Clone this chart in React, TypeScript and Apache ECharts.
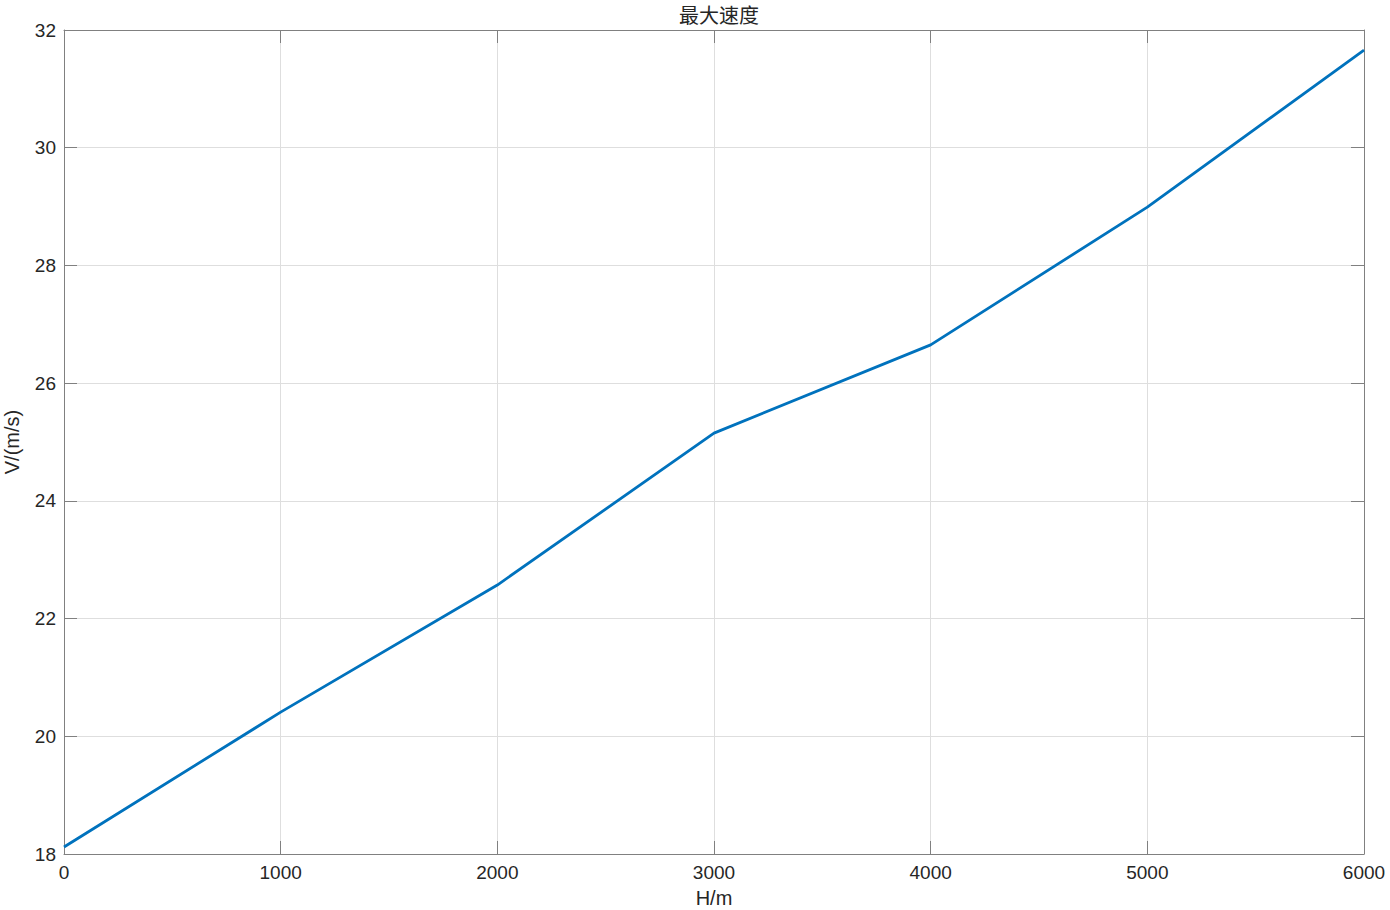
import React, { useEffect, useRef } from "react";
import * as echarts from "echarts";

const heights = [0, 1000, 2000, 3000, 4000, 5000, 6000];
const speeds = [18.12, 20.41, 22.57, 25.15, 26.65, 28.99, 31.66];
const titleText = "最大速度";
const xName = "H/m";
const yName = "V/(m/s)";

const axisColor = "#808080";
const textColor = "#262626";
const font = "'Liberation Sans', Arial, 'Noto Sans CJK SC', sans-serif";

export default function App() {
  const ref = useRef<HTMLDivElement>(null);
  useEffect(() => {
    const chart = echarts.init(ref.current!, null, { renderer: "svg" });
    const baseX = {
      type: "value",
      min: 0,
      max: 6000,
      interval: 1000,
      axisLine: { show: true, onZero: false, lineStyle: { color: axisColor, width: 1 } },
      axisTick: { show: true, inside: true, length: 13, lineStyle: { color: axisColor } },
    };
    const baseY = {
      type: "value",
      min: 18,
      max: 32,
      interval: 2,
      axisLine: { show: true, onZero: false, lineStyle: { color: axisColor, width: 1 } },
      axisTick: { show: true, inside: true, length: 13, lineStyle: { color: axisColor } },
    };
    chart.setOption({
      animation: false,
      backgroundColor: "#ffffff",
      title: {
        text: titleText,
        left: 714,
        top: -1,
        textAlign: "center",
        textStyle: { fontSize: 20, fontWeight: "normal", color: textColor, fontFamily: "'Noto Sans CJK SC', sans-serif" },
      },
      grid: { left: 64, right: 26, top: 30, bottom: 56, containLabel: false, outerBoundsMode: "none" },
      xAxis: [
        {
          ...baseX,
          position: "bottom",
          name: xName,
          nameLocation: "middle",
          nameGap: 34,
          nameTextStyle: { fontSize: 20, color: textColor, fontFamily: font },
          axisLabel: { fontSize: 19, color: textColor, fontFamily: font, margin: 9, formatter: (v: number) => String(v) },
          splitLine: { show: true, lineStyle: { color: "#dedede", width: 1 } },
        },
        {
          ...baseX,
          position: "top",
          axisLabel: { show: false },
          splitLine: { show: false },
        },
      ],
      yAxis: [
        {
          ...baseY,
          position: "left",
          name: yName,
          nameLocation: "middle",
          nameGap: 42,
          nameTextStyle: { fontSize: 20, color: textColor, fontFamily: font },
          axisLabel: { fontSize: 19, color: textColor, fontFamily: font, margin: 8 },
          splitLine: { show: true, lineStyle: { color: "#dedede", width: 1 } },
        },
        {
          ...baseY,
          position: "right",
          axisLabel: { show: false },
          splitLine: { show: false },
        },
      ],
      series: [
        {
          type: "line",
          data: heights.map((h, i) => [h, speeds[i]]),
          showSymbol: false,
          symbol: "none",
          lineStyle: { color: "#0072BD", width: 2.8 },
          itemStyle: { color: "#0072BD" },
        },
      ],
    });
    return () => chart.dispose();
  }, []);
  return (
    <div
      ref={ref}
      style={{ position: "fixed", left: 0, top: 0, width: 1390, height: 910 }}
    />
  );
}
